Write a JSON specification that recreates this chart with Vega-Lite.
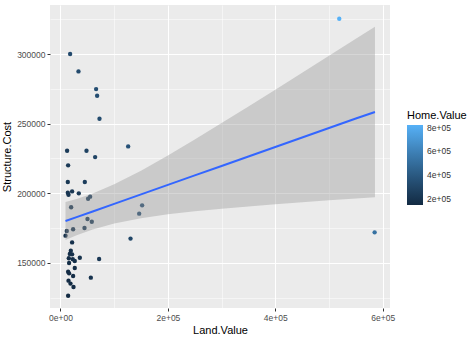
{
  "$schema": "https://vega.github.io/schema/vega-lite/v6.json",
  "width": 340,
  "height": 303,
  "autosize": "none",
  "padding": {"left": 50, "top": 5, "right": 84, "bottom": 30},
  "background": "white",
  "config": {
    "font": "Liberation Sans",
    "view": {"fill": "#EBEBEB", "stroke": null},
    "axis": {
      "labelFont": "Liberation Sans",
      "labelFontSize": 8.5,
      "labelColor": "#4D4D4D",
      "titleFont": "Liberation Sans",
      "titleFontSize": 11,
      "titleFontWeight": "normal",
      "titleColor": "#000000",
      "tickColor": "#333333",
      "tickSize": 3,
      "tickWidth": 1,
      "labelPadding": 2,
      "domain": false,
      "gridColor": "#FFFFFF"
    }
  },
  "datasets": {
    "homes": [
      {"land": 17900, "structure": 300000, "home": 317900},
      {"land": 33500, "structure": 287500, "home": 321000},
      {"land": 66300, "structure": 274800, "home": 341100},
      {"land": 68200, "structure": 270000, "home": 338200},
      {"land": 72600, "structure": 253500, "home": 326100},
      {"land": 12300, "structure": 230600, "home": 242900},
      {"land": 48400, "structure": 230600, "home": 279000},
      {"land": 64500, "structure": 226000, "home": 290500},
      {"land": 126000, "structure": 233700, "home": 359700},
      {"land": 14200, "structure": 220100, "home": 234300},
      {"land": 13600, "structure": 208100, "home": 221700},
      {"land": 45300, "structure": 208100, "home": 253400},
      {"land": 13600, "structure": 200400, "home": 214000},
      {"land": 14900, "structure": 199000, "home": 213900},
      {"land": 21600, "structure": 201400, "home": 223000},
      {"land": 34100, "structure": 200000, "home": 234100},
      {"land": 51400, "structure": 196100, "home": 247500},
      {"land": 55200, "structure": 197600, "home": 252800},
      {"land": 19800, "structure": 190000, "home": 209800},
      {"land": 50300, "structure": 181600, "home": 231900},
      {"land": 58300, "structure": 179600, "home": 237900},
      {"land": 146500, "structure": 185400, "home": 331900},
      {"land": 152000, "structure": 191400, "home": 343400},
      {"land": 11700, "structure": 173000, "home": 184700},
      {"land": 23500, "structure": 174200, "home": 197700},
      {"land": 44700, "structure": 175100, "home": 219800},
      {"land": 9300, "structure": 169600, "home": 178900},
      {"land": 130400, "structure": 167500, "home": 297900},
      {"land": 21600, "structure": 164800, "home": 186400},
      {"land": 19200, "structure": 158800, "home": 178000},
      {"land": 21600, "structure": 156200, "home": 177800},
      {"land": 17300, "structure": 156500, "home": 173800},
      {"land": 15500, "structure": 153400, "home": 168900},
      {"land": 22900, "structure": 152700, "home": 175600},
      {"land": 36000, "structure": 153800, "home": 189800},
      {"land": 71900, "structure": 152900, "home": 224800},
      {"land": 26600, "structure": 151400, "home": 178000},
      {"land": 16000, "structure": 150000, "home": 166000},
      {"land": 26600, "structure": 146400, "home": 173000},
      {"land": 14200, "structure": 143800, "home": 158000},
      {"land": 16000, "structure": 142600, "home": 158600},
      {"land": 23500, "structure": 140700, "home": 164200},
      {"land": 56500, "structure": 139500, "home": 196000},
      {"land": 14900, "structure": 137300, "home": 152200},
      {"land": 18600, "structure": 135200, "home": 153800},
      {"land": 24200, "structure": 132800, "home": 157000},
      {"land": 14200, "structure": 126500, "home": 150000},
      {"land": 519100, "structure": 325300, "home": 822000},
      {"land": 585000, "structure": 172000, "home": 520000}
    ],
    "fit": [
      {"land": 9300, "fit": 180100, "lower": 166450, "upper": 193750},
      {"land": 30000, "fit": 182900, "lower": 169850, "upper": 195980},
      {"land": 60000, "fit": 187000, "lower": 174080, "upper": 199910},
      {"land": 100000, "fit": 192440, "lower": 178410, "upper": 206470},
      {"land": 150000, "fit": 199240, "lower": 182200, "upper": 216280},
      {"land": 200000, "fit": 206040, "lower": 184920, "upper": 227170},
      {"land": 250000, "fit": 212850, "lower": 187060, "upper": 238630},
      {"land": 300000, "fit": 219650, "lower": 188900, "upper": 250400},
      {"land": 350000, "fit": 226450, "lower": 190550, "upper": 262350},
      {"land": 400000, "fit": 233250, "lower": 192090, "upper": 274410},
      {"land": 450000, "fit": 240050, "lower": 193560, "upper": 286550},
      {"land": 500000, "fit": 246860, "lower": 194970, "upper": 298740},
      {"land": 550000, "fit": 253660, "lower": 196340, "upper": 310970},
      {"land": 585600, "fit": 258400, "lower": 197200, "upper": 319600}
    ]
  },
  "layer": [
    {
      "data": {"name": "homes"},
      "mark": {"type": "point", "filled": true, "size": 19, "opacity": 1},
      "encoding": {
        "x": {
          "field": "land", "type": "quantitative",
          "scale": {"domain": [-19550, 613600], "nice": false, "zero": false},
          "axis": {
            "title": "Land.Value", "orient": "bottom",
            "values": [0, 200000, 400000, 600000],
            "labelExpr": "replace(format(datum.value, '.0e'), 'e+', 'e+0')",
            "grid": true, "gridWidth": 1, "titlePadding": 3
          }
        },
        "y": {
          "field": "structure", "type": "quantitative",
          "scale": {"domain": [117700, 335170], "nice": false, "zero": false},
          "axis": {
            "title": "Structure.Cost", "orient": "left",
            "values": [150000, 200000, 250000, 300000],
            "format": "d",
            "grid": true, "gridWidth": 1, "titlePadding": 4
          }
        },
        "color": {
          "field": "home", "type": "quantitative",
          "scale": {"domain": [150000, 822000], "range": ["#132B43", "#56B1F7"], "interpolate": "lab"},
          "legend": {
            "title": "Home.Value",
            "orient": "none",
            "legendX": 357,
            "legendY": 105,
            "direction": "vertical",
            "gradientLength": 80,
            "gradientThickness": 16,
            "gradientStrokeWidth": 0,
            "values": [200000, 400000, 600000, 800000],
            "labelExpr": "replace(format(datum.value, '.0e'), 'e+', 'e+0')",
            "labelFont": "Liberation Sans",
            "labelFontSize": 8.5,
            "labelColor": "#333333",
            "labelOffset": 4,
            "titleFont": "Liberation Sans",
            "titleFontSize": 11,
            "titleFontWeight": "normal",
            "titleColor": "#000000",
            "titlePadding": 4
          }
        }
      }
    },
    {
      "data": {"name": "fit"},
      "mark": {"type": "area", "color": "#999999", "opacity": 0.4},
      "encoding": {
        "x": {
          "field": "land", "type": "quantitative",
          "axis": {
            "orient": "top", "title": null, "values": [100000, 300000, 500000],
            "grid": true, "gridWidth": 0.5, "labels": false, "ticks": false, "domain": false
          }
        },
        "y": {
          "field": "lower", "type": "quantitative",
          "axis": {
            "orient": "right", "title": null, "values": [125000, 175000, 225000, 275000, 325000],
            "grid": true, "gridWidth": 0.5, "labels": false, "ticks": false, "domain": false
          }
        },
        "y2": {"field": "upper"}
      }
    },
    {
      "data": {"name": "fit"},
      "mark": {"type": "line", "color": "#3366FF", "strokeWidth": 2},
      "encoding": {
        "x": {"field": "land", "type": "quantitative", "axis": null},
        "y": {"field": "fit", "type": "quantitative", "axis": null}
      }
    }
  ],
  "resolve": {"axis": {"x": "independent", "y": "independent"}}
}
